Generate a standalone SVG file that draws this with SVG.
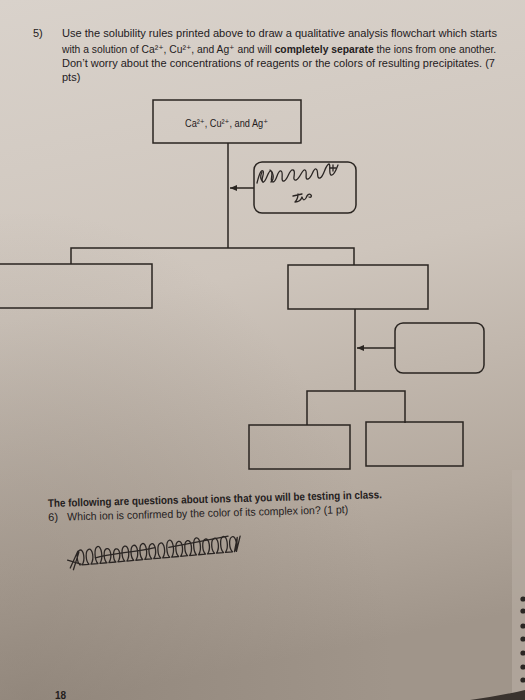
<svg xmlns="http://www.w3.org/2000/svg" width="525" height="700" viewBox="0 0 525 700">
  <defs>
    <linearGradient id="paper" x1="0" y1="0" x2="0.15" y2="1">
      <stop offset="0" stop-color="#d9d2cb"/>
      <stop offset="0.45" stop-color="#cec5bc"/>
      <stop offset="0.8" stop-color="#b4a99e"/>
      <stop offset="1" stop-color="#a0958a"/>
    </linearGradient>
    <radialGradient id="shade" cx="0.05" cy="1" r="0.7">
      <stop offset="0" stop-color="#7f7469" stop-opacity="0.45"/>
      <stop offset="1" stop-color="#7f7469" stop-opacity="0"/>
    </radialGradient>
    <marker id="arr" markerWidth="8" markerHeight="6" refX="7" refY="3" orient="auto" markerUnits="userSpaceOnUse">
      <path d="M0,0 L7,3 L0,6 Z" fill="#2a2521"/>
    </marker>
    <style>
      .box { fill: none; stroke: #2a2521; stroke-width: 1.5; }
      .line { fill: none; stroke: #2a2521; stroke-width: 1.5; }
      .ink { fill: none; stroke: #2b2624; stroke-width: 1.3; stroke-linecap: round; stroke-linejoin: round; }
      .t { font-family: "Liberation Sans", "DejaVu Sans", Arial, sans-serif; font-size: 11px; fill: #24201d; }
      .b { font-weight: bold; }
    </style>
  </defs>

  <rect width="525" height="700" fill="url(#paper)"/>
  <rect width="525" height="700" fill="url(#shade)"/>
  <rect x="512" y="470" width="13" height="230" fill="#b9afa5" opacity="0.6"/>
  <g fill="#2a2623">
    <circle cx="523" cy="599" r="2.6"/>
    <circle cx="523" cy="611" r="2.6"/>
    <circle cx="523" cy="626" r="2.6"/>
    <circle cx="523" cy="639" r="2.6"/>
    <circle cx="523" cy="653" r="2.6"/>
    <circle cx="523" cy="667" r="2.6"/>
    <circle cx="523" cy="680" r="2.6"/>
  </g>
  <path d="M470,700 Q500,696 525,690 L525,700 Z" fill="#3a332e"/>

  <!-- question text -->
  <g id="question5">
    <text class="t" x="33" y="37">5)</text>
    <text class="t" x="62" y="37" textLength="435" lengthAdjust="spacingAndGlyphs">Use the solubility rules printed above to draw a qualitative analysis flowchart which starts</text>
    <text class="t" x="62" y="53" style="font-size:10.3px">with a solution of Ca²⁺, Cu²⁺, and Ag⁺ and will <tspan class="b">completely separate</tspan> the ions from one another.</text>
    <text class="t" x="62" y="67" textLength="433" lengthAdjust="spacingAndGlyphs">Don’t worry about the concentrations of reagents or the colors of resulting precipitates. (7</text>
    <text class="t" x="62" y="81">pts)</text>
  </g>

  <!-- connectors -->
  <g id="connectors">
    <path class="line" d="M228,143 V248"/>
    <path class="line" d="M254,188 H230" marker-end="url(#arr)"/>
    <path class="line" d="M71,264 V248 H354 V265"/>
    <path class="line" d="M355,309 V390"/>
    <path class="line" d="M395,348 H357" marker-end="url(#arr)"/>
    <path class="line" d="M307,425 V391 H405 V423"/>
  </g>

  <!-- nodes -->
  <g id="start">
    <rect class="box" x="153" y="100" width="148" height="43"/>
    <text class="t" x="185" y="127" style="font-size:10.5px" textLength="83" lengthAdjust="spacingAndGlyphs">Ca²⁺, Cu²⁺, and Ag⁺</text>
  </g>
  <g id="reagent1">
    <rect class="box" x="254" y="162" width="102" height="51" rx="8"/>
    <path class="ink" d="M257,183 c2,-8 4,-14 6,-12 c2,2 -3,10 0,11 c3,1 5,-12 8,-11 c3,1 -2,11 2,11 c4,0 4,-12 8,-11 c3,1 -1,11 3,10 c4,-1 5,-12 9,-11 c4,1 -2,11 3,10 c4,-1 6,-11 9,-10 c3,1 -1,10 3,9 c4,-1 5,-11 8,-10 c3,1 0,10 4,9 c4,-1 5,-13 9,-14 c2,0 -1,12 3,11 c3,-1 5,-8 6,-10"/>
    <path class="ink" d="M262,172 c-2,4 -1,8 1,10 M270,170 c3,2 5,8 1,12 M333,165 l0,6 M330,168 l6,0"/>
    <path class="ink" d="M293,196 l9,-2 M298,194 c0,3 -1,6 -3,8 c3,0 6,-2 7,-5 c1,3 2,4 4,1 c1,-3 3,-5 5,-3 c1,1 0,3 -2,2"/>
  </g>
  <g id="leftResult">
    <rect class="box" x="-2" y="264" width="154" height="44"/>
  </g>
  <g id="rightResult">
    <rect class="box" x="288" y="265" width="140" height="44"/>
  </g>
  <g id="reagent2">
    <rect class="box" x="395" y="323" width="89" height="50" rx="8"/>
  </g>
  <g id="bottomLeft">
    <rect class="box" x="249" y="425" width="101" height="44"/>
  </g>
  <g id="bottomRight">
    <rect class="box" x="366" y="422" width="97" height="44"/>
  </g>

  <!-- following questions -->
  <g id="question6" transform="rotate(-1.5 48 507)">
    <text class="t b" x="48" y="507" textLength="334" lengthAdjust="spacingAndGlyphs">The following are questions about ions that you will be testing in class.</text>
    <text class="t" x="48" y="521">6)</text>
    <text class="t" x="67" y="521" textLength="281" lengthAdjust="spacingAndGlyphs">Which ion is confirmed by the color of its complex ion? (1 pt)</text>
  </g>
  <g id="answer6" transform="rotate(-5 70 565)">
    <path class="ink" d="M70,568 l9,-16 M68,560 l13,5 M73,570 l7,-17 M80,566 c-3,-3 -3,-14 1,-15 c4,-1 5,10 1,15 c3,0 5,0 7,0 c-3,-3 -3,-14 1,-15 c4,-1 5,10 1,15 c3,0 5,0 7,0 c-3,-3 -3,-16 1,-17 c4,-1 5,12 1,17 c3,0 5,0 7,0 c-3,-3 -3,-13 1,-14 c4,-1 5,9 1,14 c3,0 5,0 7,0 c-3,-3 -2,-12 1,-13 c4,-1 5,8 1,13 c3,0 5,0 7,0 c-3,-3 -3,-14 1,-15 c4,-1 5,10 1,15 c3,0 5,0 7,0 c-3,-3 -3,-14 1,-15 c4,-1 5,10 1,15 c3,0 5,0 7,0 c-3,-3 -3,-15 1,-16 c4,-1 5,11 1,16 c3,0 5,0 7,0 c-3,-3 -3,-14 1,-15 c4,-1 5,10 1,15 c3,0 5,0 7,0 c-3,-3 -3,-14 1,-15 c4,-1 5,10 1,15 c3,0 5,0 7,0 c-3,-3 -3,-16 1,-17 c4,-1 5,12 1,17 c3,0 5,0 7,0 c-3,-3 -3,-14 1,-15 c4,-1 5,10 1,15 c3,0 5,0 7,0 c-3,-3 -3,-14 1,-15 c4,-1 5,10 1,15 c3,0 5,0 7,0 c-3,-3 -3,-16 1,-17 c4,-1 5,12 1,17 c3,0 5,0 7,0 c-3,-3 -3,-14 1,-15 c4,-1 5,10 1,15 c3,0 5,0 7,0 c-3,-3 -3,-14 1,-15 c4,-1 5,10 1,15 c3,0 5,0 7,0 c-3,-3 -3,-15 1,-16 c4,-1 5,11 1,16 c3,0 5,0 7,0 c-3,-3 -3,-14 1,-15 c4,-1 5,10 1,15 l4,-14 l-2,14 l5,-15"/>
    <path class="ink" d="M96,560 c15,-3 40,-2 60,-5 M170,556 c20,-2 40,-4 60,-6"/>
  </g>

  <text class="t b" x="55" y="699" style="font-size:10px">18</text>
</svg>
